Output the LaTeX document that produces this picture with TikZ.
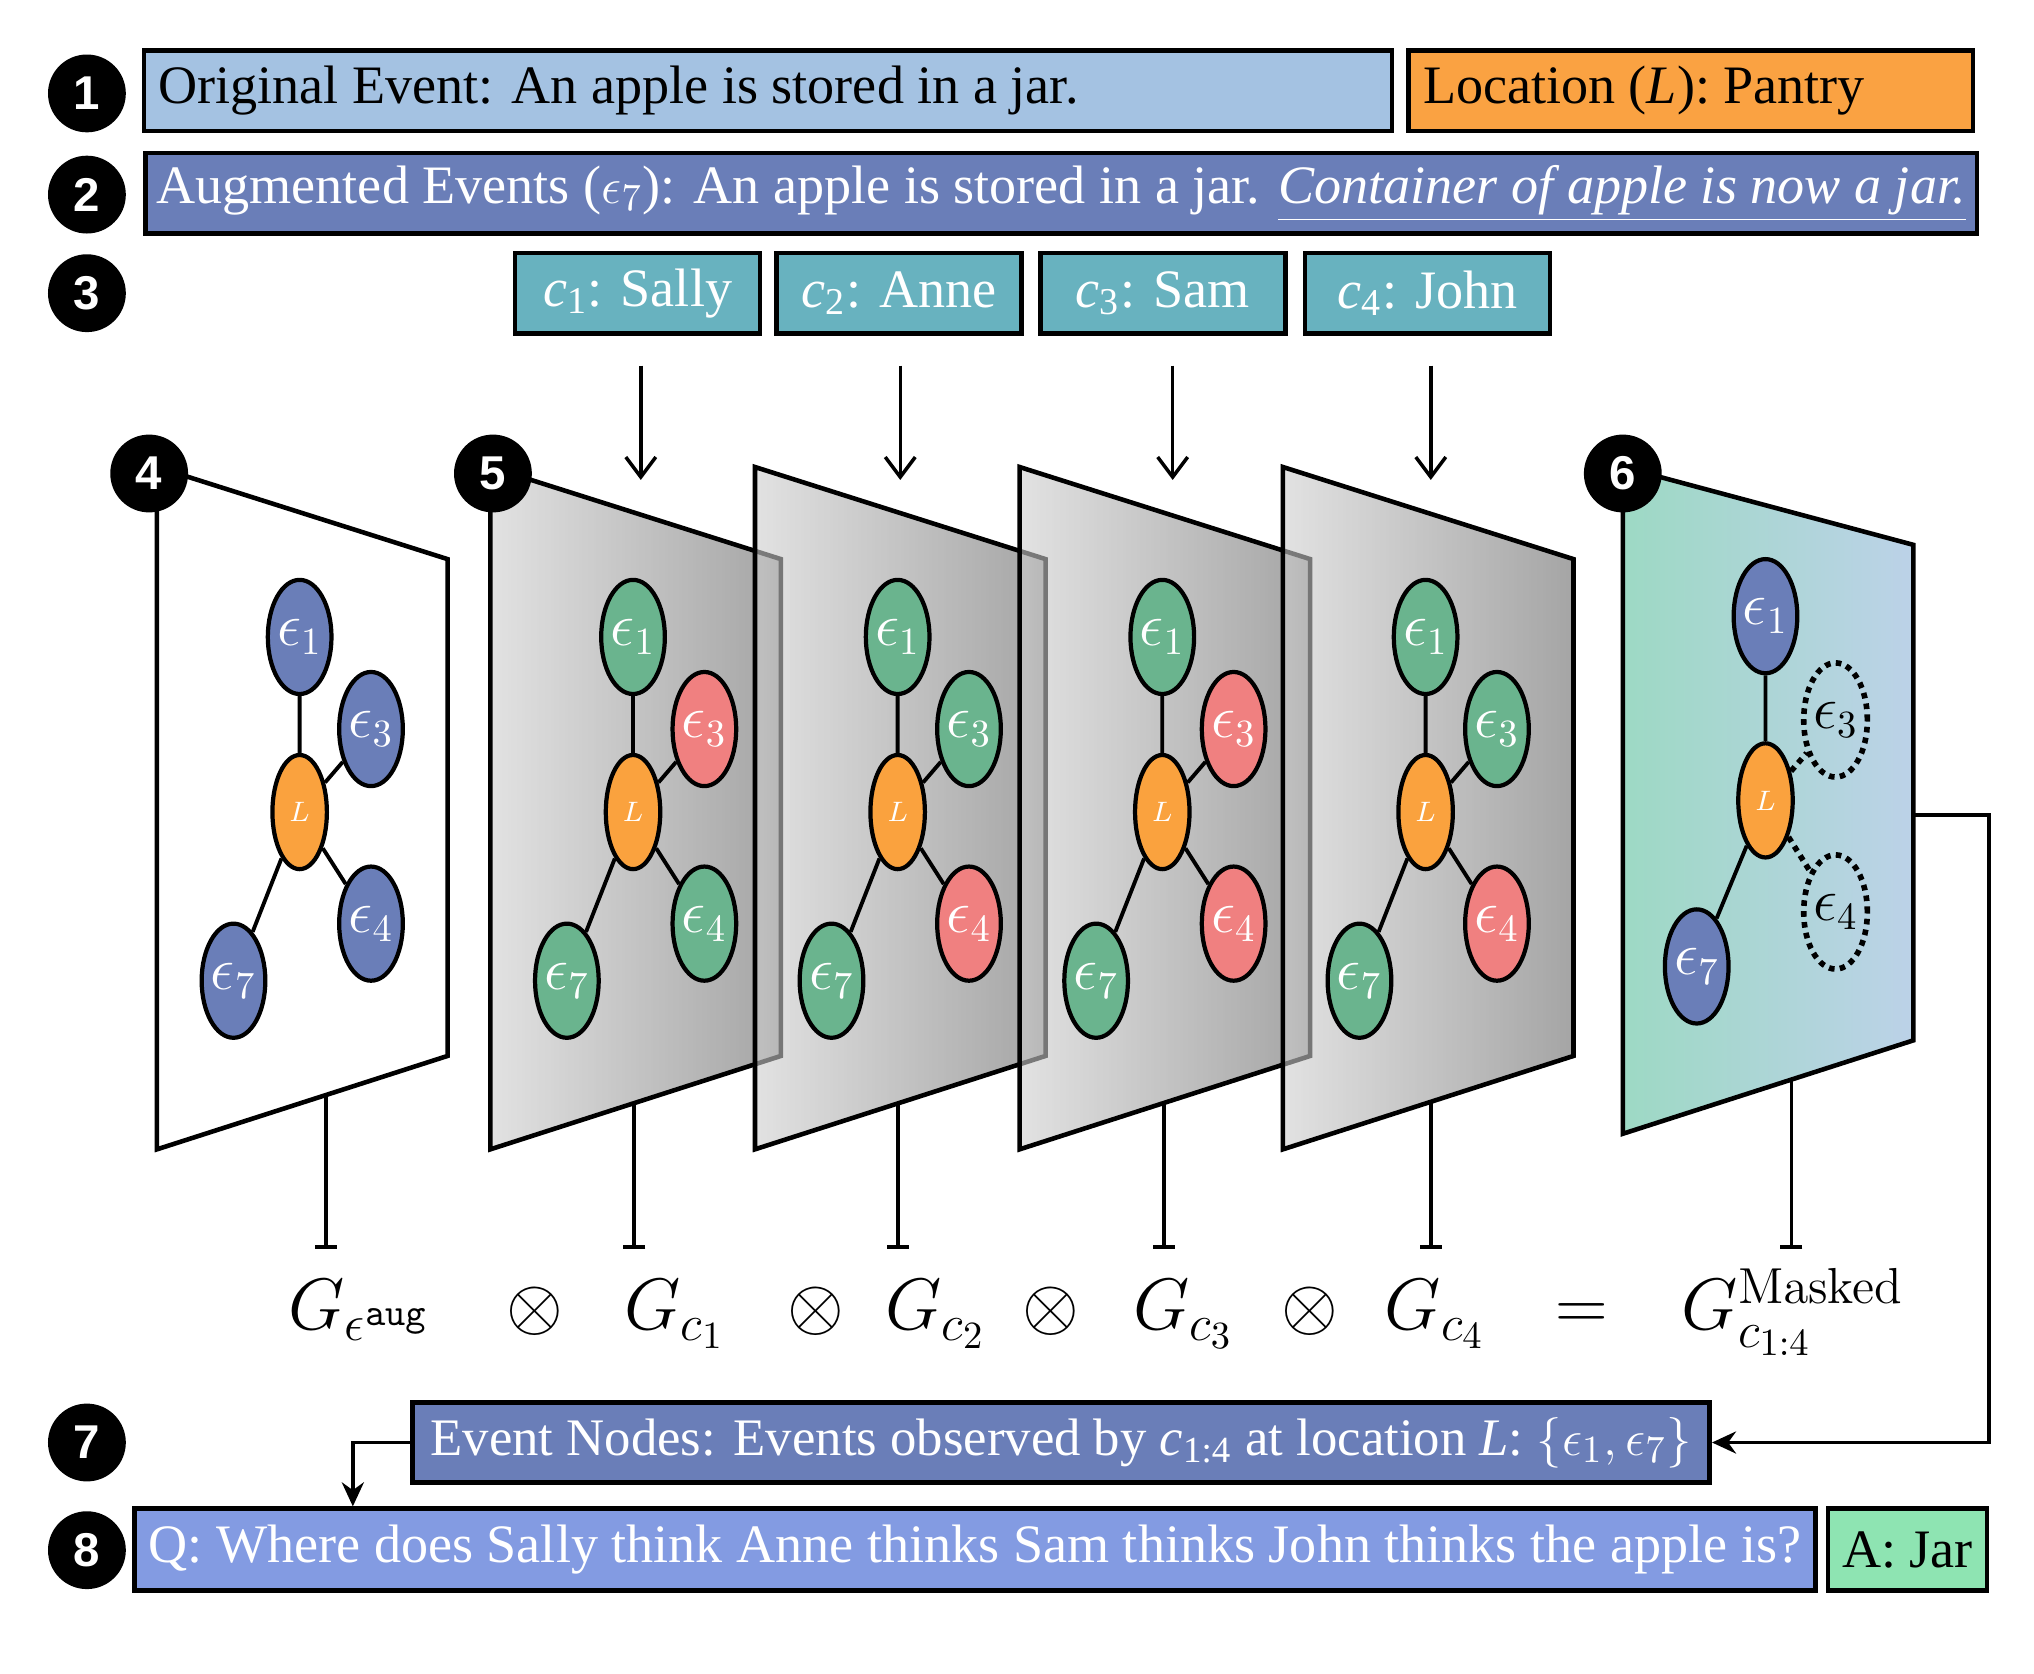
\documentclass[tikz,border=0pt]{standalone}
\usepackage[no-math]{fontspec}
\setmainfont{Liberation Serif}
\newfontfamily\numfont{Liberation Sans}
\usepackage{tikz}
\usetikzlibrary{shapes.geometric,arrows.meta}

\definecolor{origblue}{RGB}{164,194,226}
\definecolor{locorange}{RGB}{250,162,66}
\definecolor{augblue}{RGB}{106,126,184}
\definecolor{charteal}{RGB}{104,178,191}
\definecolor{qblue}{RGB}{131,155,226}
\definecolor{ansgreen}{RGB}{142,228,178}
\definecolor{nblue}{RGB}{106,126,184}
\definecolor{ngreen}{RGB}{106,180,142}
\definecolor{nred}{RGB}{240,128,128}
\definecolor{norange}{RGB}{250,162,62}
\definecolor{maskgreen}{RGB}{157,217,196}
\definecolor{maskblue}{RGB}{188,210,232}

\newcommand{\pxl}{0.01297cm}
\newcommand{\tvar}[2]{\textit{#1}\textsubscript{#2}}

\tikzset{
  badge/.style={circle, fill=black, text=white, inner sep=0pt, minimum size=60*\pxl,
    font=\numfont\bfseries\fontsize{13.5}{14}\selectfont},
  infobox/.style={draw=black, line width=1.3pt, inner xsep=11*\pxl, inner ysep=0pt,
    minimum height=62*\pxl, font=\fontsize{15.4}{18}\selectfont},
  evnode/.style={ellipse, draw=black, line width=1.2pt, inner sep=0pt, minimum width=42*\pxl,
    minimum height=88*\pxl, text=white, font=\fontsize{16}{18}\selectfont},
  locnode/.style={evnode, fill=norange, font=\fontsize{8.5}{10}\selectfont},
  ghostnode/.style={evnode, text=black, line width=1.6pt, dash pattern=on 1.6pt off 1.5pt},
  edge/.style={line width=1.1pt},
  ghostedge/.style={line width=1.6pt, dash pattern=on 1.6pt off 1.5pt},
  panel/.style={draw=black, line width=1.3pt, line join=miter},
  graypanel/.style={panel, left color=black!19, right color=black!59, fill opacity=0.6},
  downarrow/.style={line width=1pt, -{Straight Barb[length=2mm,width=3mm]}},
  flowarrow/.style={line width=1.1pt, -{Stealth[length=2.4mm,width=2.2mm]}},
  tbar/.style={line width=1.1pt, -{Bar[width=2.2mm,line width=1.3pt]}},
  eqlabel/.style={inner sep=0pt, font=\fontsize{21.6}{26}\selectfont},
}

\begin{document}
\begin{tikzpicture}[x=\pxl, y=-\pxl]
\useasboundingbox (0,0) rectangle (1568,1290);

% Define the panel outline
\pgfmathsetmacro{\Pw}{224}
\pgfmathsetmacro{\Ptop}{360}
\pgfmathsetmacro{\Prt}{431}
\pgfmathsetmacro{\Prb}{814}
\pgfmathsetmacro{\Pbot}{886}

% Draw the text rows
\node (orig) [infobox, fill=origblue, text width=12.19cm, align=flush left] at (592,70)
  {Original Event: An apple is stored in a jar.};
\node (loc) [infobox, fill=locorange, text width=5.357cm, align=flush left] at (1303.5,70)
  {Location (\textit{L}): Pantry};
\node (aug) [infobox, fill=augblue, text=white, inner xsep=4*\pxl, minimum width=1412*\pxl] at (818,149)
  {Augmented Events ($\epsilon_7$): An apple is stored in a jar. \underline{\textit{Container of apple is now a jar.}}};
\node (char1) [infobox, fill=charteal, text=white, minimum width=189*\pxl] at (491.5,226) {\tvar{c}{1}: Sally};
\node (char2) [infobox, fill=charteal, text=white, minimum width=189*\pxl] at (693,226) {\tvar{c}{2}: Anne};
\node (char3) [infobox, fill=charteal, text=white, minimum width=189*\pxl] at (896.5,226) {\tvar{c}{3}: Sam};
\node (char4) [infobox, fill=charteal, text=white, minimum width=189*\pxl] at (1100.5,226) {\tvar{c}{4}: John};
\node (evt) [infobox, fill=augblue, text=white, inner xsep=8*\pxl, minimum width=1000*\pxl,
  font=\fontsize{15}{18}\selectfont] at (818,1112)
  {Event Nodes: Events observed by \tvar{c}{1:4} at location \textit{L}: $\{\epsilon_1, \epsilon_7\}$};
\node (q) [infobox, fill=qblue, text=white, minimum width=1295*\pxl, minimum height=63*\pxl] at (751.5,1194.5)
  {Q: Where does Sally think Anne thinks Sam thinks John thinks the apple is?};
\node (ans) [infobox, fill=ansgreen, minimum width=121*\pxl, minimum height=63*\pxl] at (1470.5,1194.5) {A: Jar};

% Draw the augmented graph
\draw [panel, fill=white] (121,\Ptop) -- (121+\Pw,\Prt) -- (121+\Pw,\Prb) -- (121,\Pbot) -- cycle;
\node (ga1) [evnode, fill=nblue] at (231,491) {$\epsilon_1$};
\node (ga3) [evnode, fill=nblue] at (286,562) {$\epsilon_3$};
\node (gaL) [locnode] at (231,626) {$L$};
\node (ga4) [evnode, fill=nblue] at (286,712) {$\epsilon_4$};
\node (ga7) [evnode, fill=nblue] at (180,756) {$\epsilon_7$};
\draw [edge] (gaL) -- (ga1) (gaL) -- (ga3) (gaL) -- (ga4) (gaL) -- (ga7);

% Draw the character graphs, each over the one before
\foreach \X/\pn/\cc/\cd in {378/gb/nred/ngreen, 582/gc/ngreen/nred, 786/gd/nred/nred, 989/ge/ngreen/nred} {
  \shadedraw [graypanel] (\X,\Ptop) -- (\X+\Pw,\Prt) -- (\X+\Pw,\Prb) -- (\X,\Pbot) -- cycle;
  \node (\pn1) [evnode, fill=ngreen] at (\X+110,491) {$\epsilon_1$};
  \node (\pn3) [evnode, fill=\cc] at (\X+165,562) {$\epsilon_3$};
  \node (\pn L) [locnode] at (\X+110,626) {$L$};
  \node (\pn4) [evnode, fill=\cd] at (\X+165,712) {$\epsilon_4$};
  \node (\pn7) [evnode, fill=ngreen] at (\X+59,756) {$\epsilon_7$};
  \draw [edge] (\pn L) -- (\pn1) (\pn L) -- (\pn3) (\pn L) -- (\pn4) (\pn L) -- (\pn7);
}

% Draw the masked graph
\shadedraw [panel, left color=maskgreen, right color=maskblue] (1251,360) -- (1475,420) -- (1475,802) -- (1251,874) -- cycle;
\node (gf1) [evnode, fill=nblue] at (1361,475) {$\epsilon_1$};
\node (gf3) [ghostnode] at (1415,555) {$\epsilon_3$};
\node (gfL) [locnode] at (1361,617) {$L$};
\node (gf4) [ghostnode] at (1415,703) {$\epsilon_4$};
\node (gf7) [evnode, fill=nblue] at (1308,745) {$\epsilon_7$};
\draw [edge] (gfL) -- (gf1) (gfL) -- (gf7);
\draw [ghostedge] (gfL) -- (gf3) (gfL) -- (gf4);

% Draw the step badges
\node (n1) [badge] at (67,72) {1};
\node (n2) [badge] at (67,150) {2};
\node (n3) [badge] at (67,226) {3};
\node (n4) [badge] at (115,365) {4};
\node (n5) [badge] at (380,365) {5};
\node (n6) [badge] at (1251,365) {6};
\node (n7) [badge] at (67,1112) {7};
\node (n8) [badge] at (67,1195) {8};

% Arrows from the characters into their graphs
\foreach \ch/\x in {char1/494, char2/694, char3/904, char4/1103} {
  \coordinate (d\ch) at (\x,370);
  \draw [downarrow, shorten <=0.3cm] (d\ch |- \ch.south) -- (d\ch);
}

% Stems from the graphs down to the terms
\foreach \x/\y in {251/844, 489/850, 692/851, 897/850, 1103/849, 1381/832} {
  \coordinate (s\x) at (\x,\y);
  \coordinate (t\x) at (\x,963);
  \draw [tbar] (s\x) -- (t\x);
}

% The product of the graphs
\node (gaug) [eqlabel, anchor=base west] at (222,1025) {$G_{\epsilon^{\mathtt{aug}}}$};
\node (op1) [eqlabel, anchor=base] at (412,1025) {$\otimes$};
\node (gc1) [eqlabel, anchor=base west] at (481,1025) {$G_{c_1}$};
\node (op2) [eqlabel, anchor=base] at (629,1025) {$\otimes$};
\node (gc2) [eqlabel, anchor=base west] at (682,1025) {$G_{c_2}$};
\node (op3) [eqlabel, anchor=base] at (810,1025) {$\otimes$};
\node (gc3) [eqlabel, anchor=base west] at (873,1025) {$G_{c_3}$};
\node (op4) [eqlabel, anchor=base] at (1010,1025) {$\otimes$};
\node (gc4) [eqlabel, anchor=base west] at (1067,1025) {$G_{c_4}$};
\node (eq) [eqlabel, anchor=base] at (1219,1025) {$=$};
\node (gmask) [eqlabel, anchor=base west] at (1296,1025) {$G^{\mathrm{Masked}}_{c_{1:4}}$};

% Masked graph to the event nodes, then to the question
\coordinate (p6r) at (1475,628);
\coordinate (rk) at (1533,628);
\draw [flowarrow] (p6r) -- (rk) |- (evt.east);
\coordinate (lk) at (272,1112);
\draw [flowarrow] (evt.west) -- (lk) -- (lk |- q.north);
\end{tikzpicture}
\end{document}
